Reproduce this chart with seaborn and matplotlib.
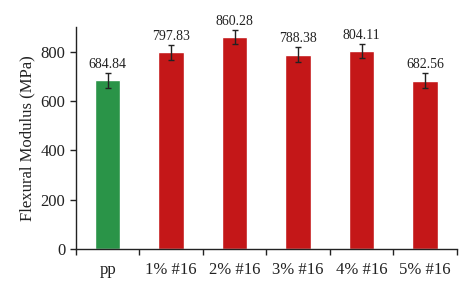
import matplotlib
matplotlib.use("Agg")
import matplotlib.pyplot as plt
import seaborn as sns
import pandas as pd
import numpy as np

categories = ["pp", "1% #16", "2% #16", "3% #16", "4% #16", "5% #16"]
values = [684.84, 797.83, 860.28, 788.38, 804.11, 682.56]
errors = [30, 30, 28, 30, 28, 30]
labels = ["684.84", "797.83", "860.28", "788.38", "804.11", "682.56"]
colors = ["#2a9448", "#c41718", "#c41718", "#c41718", "#c41718", "#c41718"]
yticks = [0, 200, 400, 600, 800]

sns.set_style("white")
plt.rcParams['font.family'] = ['Liberation Serif', 'DejaVu Serif']

df = pd.DataFrame({"cat": categories, "val": values})
fig = plt.figure(figsize=(4.74, 2.94), dpi=100)
ax = fig.add_axes([0.160, 0.153, 0.804, 0.755])
sns.barplot(data=df, x="cat", y="val", hue="cat", palette=colors, legend=False,
            width=0.4, errorbar=None, ax=ax, saturation=1)
x = np.arange(len(categories))
ax.errorbar(x, values, yerr=errors, fmt="none", ecolor="#222222", elinewidth=1.0,
            capsize=2.5, capthick=1.0)
for xi, v, e, lab in zip(x, values, errors, labels):
    ax.text(xi, v + e + 8, lab, ha="center", va="bottom", fontsize=10, color="#222222")

ax.set_xlim(-0.5, len(categories) - 0.5)
ax.set_ylim(0, 900)
ax.set_yticks(yticks)
ax.set_xlabel("")
ax.set_ylabel("Flexural Modulus (MPa)", fontsize=12, color="#222222")
ax.tick_params(axis="y", labelsize=12, length=4, width=1, direction="out", left=True, colors="#222222")
ax.tick_params(axis="x", which="major", labelsize=12, length=0, pad=9, colors="#222222")
ax.set_xticks(np.arange(-0.5, len(categories)), minor=True)
ax.tick_params(axis="x", which="minor", length=4, width=1, direction="out", bottom=True, color="#222222")
for s in ["top", "right"]:
    ax.spines[s].set_visible(False)
for s in ["left", "bottom"]:
    ax.spines[s].set_color("#222222")
    ax.spines[s].set_linewidth(1.0)
fig.savefig("out.png", dpi=100)
